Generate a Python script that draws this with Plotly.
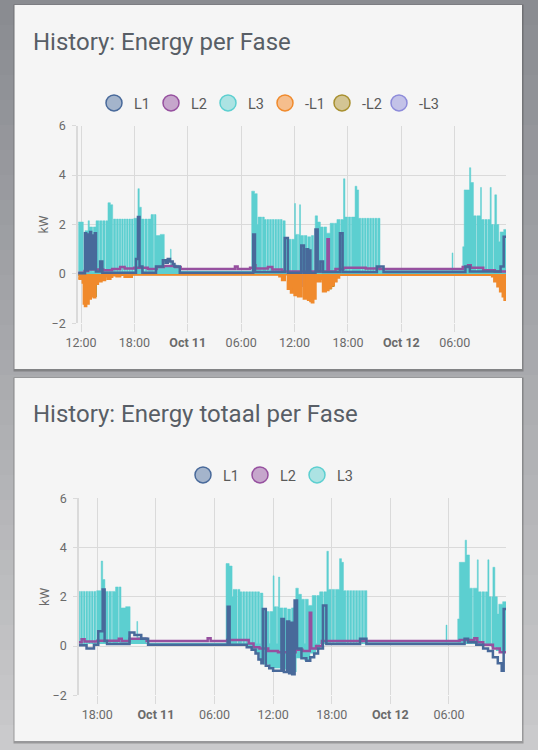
import pandas as pd
import plotly.graph_objects as go

W, H = 538, 750
DAY0 = pd.Timestamp("2023-10-10")

# all series: hours after Oct 10 00:00 -> kW, stepped (value holds until next point)
l3_hour = [11.70, 12.26, 12.45, 12.80, 12.94, 13.30, 13.39, 13.69, 14.00, 14.09, 14.35, 14.44,
           14.70, 14.79, 15.03, 15.30, 15.56, 15.65, 15.90, 15.99, 16.20, 16.29, 16.48, 16.57,
           16.75, 16.84, 17.02, 17.11, 17.30, 17.39, 17.57, 17.66, 17.85, 17.94, 18.40, 18.55,
           18.78, 19.10, 19.19, 19.45, 19.54, 19.87, 20.15, 20.24, 20.43, 20.90, 21.36, 22.05,
           22.13, 23.00, 31.18, 31.50, 31.80, 31.90, 32.30, 32.39, 32.60, 32.80, 32.89, 33.10,
           33.19, 33.40, 33.49, 33.70, 33.79, 34.00, 34.09, 34.30, 34.39, 34.60, 34.69, 34.95,
           35.30, 35.60, 35.69, 36.00, 36.10, 36.35, 36.44, 36.56, 36.67, 37.00, 37.09, 37.40,
           37.49, 37.80, 37.89, 38.13, 38.32, 38.58, 38.90, 39.20, 39.29, 39.60, 40.00, 40.40,
           40.49, 40.76, 41.10, 41.19, 41.50, 41.66, 41.95, 42.04, 42.30, 42.39, 42.80, 43.00,
           43.20, 43.45, 43.54, 43.75, 43.84, 44.05, 44.14, 44.35, 44.44, 44.65, 44.74, 44.95,
           45.04, 45.25, 45.34, 45.60, 53.70, 53.80, 54.90, 55.06, 55.66, 55.80, 56.10, 56.40,
           56.49, 56.90, 57.00, 57.30, 57.39, 57.65, 57.74, 57.98, 58.10, 58.30, 58.39, 58.50,
           58.70, 58.95, 59.10, 59.50, 59.90]
l3_kw = [2.10, 0.10, 1.75, 2.15, 1.90, 0.10, 1.90, 2.15, 0.10, 2.15, 0.10, 2.15,
         0.10, 2.15, 2.88, 2.80, 0.10, 2.22, 0.10, 2.22, 0.10, 2.22, 0.10, 2.22,
         0.10, 2.22, 0.10, 2.22, 0.10, 2.22, 0.10, 2.22, 0.10, 2.25, 3.45, 2.70,
         2.22, 0.10, 2.22, 0.10, 2.22, 2.40, 0.10, 2.40, 1.55, 1.60, 0.30, 1.00,
         0.35, 0.12, 3.35, 3.25, 2.00, 2.30, 0.10, 2.30, 2.20, 0.10, 2.20, 0.10,
         2.20, 0.10, 2.20, 0.10, 2.20, 0.10, 2.20, 0.10, 2.20, 0.10, 2.15, 1.45,
         1.40, 0.10, 1.40, 2.85, 1.60, 0.10, 1.60, 2.80, 1.55, 0.10, 1.55, 0.10,
         1.50, 0.10, 1.55, 0.10, 2.35, 2.10, 1.90, 0.10, 1.90, 1.65, 2.05, 0.10,
         2.05, 2.20, 0.10, 2.20, 3.85, 2.30, 0.10, 2.30, 0.10, 2.30, 3.55, 3.40,
         2.25, 0.10, 2.25, 0.10, 2.25, 0.10, 2.25, 0.10, 2.25, 0.10, 2.25, 0.10,
         2.25, 0.10, 2.25, 0.15, 0.85, 0.15, 1.10, 3.40, 4.30, 3.70, 2.35, 0.10,
         2.35, 3.50, 2.20, 0.10, 2.20, 0.10, 2.20, 3.50, 2.00, 0.10, 2.00, 3.20,
         2.00, 1.30, 1.70, 1.80, 1.80]

l1_hour = [11.70, 12.45, 12.58, 12.75, 12.86, 13.02, 13.14, 13.28, 13.38, 13.55, 13.68, 14.15,
           14.40, 18.18, 18.40, 18.58, 18.90, 20.43, 21.20, 21.50, 21.75, 22.00, 22.30, 22.50,
           23.10, 31.35, 31.55, 34.90, 35.25, 36.75, 37.05, 37.35, 37.52, 37.62, 37.78, 38.35,
           38.60, 38.90, 39.20, 41.10, 41.40, 45.25, 46.00, 55.20, 55.70, 59.15, 59.50, 59.90]
l1_kw = [0.03, 1.65, 0.15, 1.60, 0.20, 1.70, 0.20, 1.55, 0.20, 1.65, 0.10, 0.50,
         0.05, 0.60, 2.30, 0.30, 0.05, 0.30, 0.55, 0.45, 0.60, 0.50, 0.40, 0.30,
         0.05, 1.60, 0.08, 1.45, 0.05, 1.15, 0.05, 1.00, 0.05, 0.95, 0.05, 1.80,
         0.10, 0.50, 0.08, 1.65, 0.08, 0.30, 0.08, 0.30, 0.10, 0.30, 1.50, 1.50]

l2_hour = [11.70, 12.40, 12.80, 14.50, 15.50, 16.40, 16.90, 18.00, 19.50, 20.50, 21.30, 22.60,
           23.20, 29.30, 29.60, 31.00, 31.40, 31.60, 33.00, 33.50, 34.60, 39.70, 39.85, 40.60,
           41.50, 44.00, 45.60, 54.90, 55.50, 55.80, 57.20, 58.50, 59.90]
l2_kw = [0.05, 0.12, 0.18, 0.15, 0.20, 0.28, 0.22, 0.25, 0.20, 0.28, 0.32, 0.28,
         0.20, 0.30, 0.20, 0.25, 0.35, 0.22, 0.28, 0.18, 0.10, 1.40, 0.10, 0.20,
         0.25, 0.22, 0.20, 0.28, 0.35, 0.25, 0.15, 0.10, 0.10]

neg_l1_hour = [11.70, 12.20, 12.32, 12.45, 12.58, 12.70, 12.85, 12.95, 13.10, 13.20, 13.30, 13.45,
               13.60, 13.75, 13.90, 14.10, 14.30, 14.50, 14.70, 15.00, 15.30, 15.50, 16.00, 16.40,
               16.90, 17.70, 34.30, 34.60, 34.90, 35.25, 35.60, 36.00, 36.40, 36.75, 37.05, 37.35,
               37.52, 37.62, 37.78, 37.95, 38.10, 38.35, 38.60, 38.90, 39.20, 39.50, 39.80, 40.10,
               40.40, 40.70, 41.00, 58.20, 58.45, 58.80, 59.10, 59.40, 59.60, 59.90]
neg_l1_kw = [-0.20, -0.35, -1.20, -1.30, -1.15, -1.20, -0.60, -1.00, -0.50, -0.90, -0.40, -0.95,
             -0.30, -0.40, -0.20, -0.30, -0.10, -0.25, -0.10, -0.20, -0.12, -0.05, -0.10, -0.03,
             -0.12, -0.02, -0.10, -0.25, 0.00, -0.60, -0.75, -0.85, -0.90, 0.00, -1.00, 0.00,
             -1.05, 0.00, -1.10, -1.15, -1.00, 0.00, -0.30, -0.20, -0.70, -0.65, -0.55, -0.45,
             -0.30, -0.15, -0.03, -0.10, -0.30, -0.50, -0.70, -0.90, -1.05, -1.05]

neg_l2_hour = [11.70, 12.00, 12.40, 13.50, 13.70, 39.40, 39.80, 40.10, 40.40, 40.70, 41.00,
               58.90, 59.30, 59.90]
neg_l2_kw = [-0.05, -0.20, -0.05, -0.90, -0.02, -0.55, -0.60, -0.50, -0.30, -0.10, 0.00,
             -0.25, -0.05, -0.05]

neg_l3_hour = [11.70, 35.50, 35.90, 36.80, 37.10, 37.40, 37.80, 59.90]
neg_l3_kw = [0.00, -0.25, 0.00, -0.50, 0.00, -0.45, 0.00, 0.00]

# second card: totals per phase
tot_l1_hour = [11.70, 16.90, 17.66, 18.10, 18.55, 18.75, 19.00, 21.30, 21.80, 22.50, 23.20, 31.35,
               31.55, 33.30, 33.80, 34.20, 34.50, 34.80, 34.95, 35.25, 35.60, 36.00, 36.85, 37.10,
               37.43, 37.64, 37.77, 37.95, 38.20, 38.45, 38.90, 39.40, 39.80, 40.20, 40.60, 41.10,
               41.45, 44.90, 45.55, 55.60, 55.96, 56.80, 57.50, 58.00, 58.50, 59.00, 59.40, 59.60,
               59.90]
tot_l1_kw = [0.03, -0.10, 0.05, 0.60, 2.30, 0.20, 0.08, 0.55, 0.45, 0.30, 0.05, 1.60,
             0.05, -0.05, -0.15, -0.30, -0.55, -0.70, 1.50, -0.80, -0.90, -1.00, 1.10, -1.05,
             1.00, -1.10, 0.95, -1.15, 1.85, -0.10, -0.50, -0.60, -0.45, -0.30, -0.10, 1.65,
             0.08, 0.30, 0.08, 0.30, 0.15, 0.05, -0.10, -0.20, -0.45, -0.70, -1.00, 1.50,
             1.50]

tot_l2_hour = [11.70, 16.40, 16.70, 18.00, 20.20, 20.50, 21.30, 23.05, 29.30, 29.60, 31.30, 33.50,
               34.00, 34.60, 35.50, 36.50, 38.30, 39.00, 39.75, 39.90, 40.40, 41.00, 45.50, 55.10,
               56.60, 56.90, 57.50, 58.50, 59.20, 59.90]
tot_l2_kw = [0.15, 0.28, 0.18, 0.22, 0.30, 0.20, 0.30, 0.20, 0.32, 0.20, 0.25, 0.10,
             -0.05, -0.10, -0.20, -0.25, -0.15, -0.20, 1.35, -0.10, 0.00, 0.20, 0.20, 0.25,
             0.32, 0.15, 0.05, -0.10, -0.25, -0.25]

# lower edge of the L3 total band (export side)
tot_l3_low_hour = [11.70, 33.30, 33.80, 34.20, 34.60, 35.00, 35.60, 36.00, 36.80, 37.50, 38.20,
                   38.40, 39.20, 39.80, 40.40, 40.80, 58.30, 58.80, 59.90]
tot_l3_low_kw = [0.08, -0.05, -0.15, -0.30, -0.60, -0.75, -0.85, -0.90, -0.95, -1.00, -1.05,
                 -0.50, -0.60, -0.30, -0.15, 0.08, -0.05, -0.20, -0.20]

tick_hours_1 = [12, 18, 24, 30, 36, 42, 48, 54]
tick_hours_2 = [18, 24, 30, 36, 42, 48, 54]
tick_text = {12: "12:00", 18: "18:00", 24: "<b>Oct 11</b>", 30: "06:00",
             36: "12:00", 42: "18:00", 48: "<b>Oct 12</b>", 54: "06:00"}

C_L1, C_L2, C_L3 = "#48699a", "#96509f", "#5ccfd0"
C_NL1, C_NL2, C_NL3 = "#f08a2c", "#a8902f", "#8d8bda"
LEG_FILL = {"L1": "#a4b4cb", "L2": "#c6a6cc", "L3": "#ace3e3",
            "-L1": "#f5be8d", "-L2": "#d3c594", "-L3": "#c3c2e8"}
CARD = "#f5f5f5"
GRID = "#dadada"
TXT = "#6a6a6a"


def t(hours):
    return DAY0 + pd.to_timedelta(pd.Series(hours), unit="h")


def px(x):
    return x / W


def py(y):
    return 1 - y / H


fig = go.Figure()


def step(hours, kw, color, xa, ya, width=2.5, fill=None, fillcolor=None):
    fig.add_trace(go.Scatter(
        x=t(hours), y=kw, mode="lines", line=dict(color=color, width=width, shape="hv"),
        fill=fill, fillcolor=fillcolor, showlegend=False, hoverinfo="skip",
        xaxis=xa, yaxis=ya))


# card 1
step(neg_l3_hour, neg_l3_kw, C_NL3, "x", "y", 1.5, "tozeroy", C_NL3)
step(neg_l2_hour, neg_l2_kw, C_NL2, "x", "y", 1.5, "tozeroy", C_NL2)
step(neg_l1_hour, neg_l1_kw, C_NL1, "x", "y", 2.5, "tozeroy", C_NL1)
step(l3_hour, l3_kw, C_L3, "x", "y", 0.5, "tozeroy", C_L3)
step(l2_hour, l2_kw, C_L2, "x", "y", 2.5)
step(l1_hour, l1_kw, C_L1, "x", "y", 2.5)

# card 2
step(tot_l3_low_hour, tot_l3_low_kw, C_L3, "x2", "y2", 0)
step(l3_hour, l3_kw, C_L3, "x2", "y2", 0.5, "tonexty", C_L3)
step(tot_l2_hour, tot_l2_kw, C_L2, "x2", "y2", 2.5)
step(tot_l1_hour, tot_l1_kw, C_L1, "x2", "y2", 2.5)

# legend entries (a blank last entry keeps the text of the real last one from being clipped)
for name, col, leg in [("L1", C_L1, "legend"), ("L2", C_L2, "legend"), ("L3", C_L3, "legend"),
                       ("-L1", C_NL1, "legend"), ("-L2", C_NL2, "legend"), ("-L3", C_NL3, "legend"),
                       ("L1", C_L1, "legend2"), ("L2", C_L2, "legend2"), ("L3", C_L3, "legend2")]:
    fig.add_trace(go.Scatter(
        x=[None], y=[None], mode="markers", name=name, legend=leg,
        marker=dict(size=16, color=LEG_FILL[name], line=dict(color=col, width=1.5))))
for leg in ["legend", "legend2"]:
    fig.add_trace(go.Scatter(x=[None], y=[None], mode="markers", name=" ", legend=leg,
                             marker=dict(size=1, color="rgba(0,0,0,0)")))

# page background + cards
shapes = []
n = 30
for i in range(n):
    f = i / (n - 1)
    c = tuple(int(a + (b - a) * f) for a, b in zip((138, 140, 145), (202, 202, 204)))
    shapes.append(dict(type="rect", xref="paper", yref="paper", x0=0, x1=1,
                       y0=py(H * (i + 1) / n), y1=py(H * i / n), layer="below",
                       line=dict(width=0), fillcolor="rgb(%d,%d,%d)" % c))
for top, bot in [(5, 369), (378, 741)]:
    shapes.append(dict(type="rect", xref="paper", yref="paper", x0=px(13.5), x1=px(523.5),
                       y0=py(bot + 2.5), y1=py(top - 0.5), layer="below",
                       line=dict(width=0), fillcolor="rgba(60,60,60,0.35)"))
    shapes.append(dict(type="rect", xref="paper", yref="paper", x0=px(14.5), x1=px(522),
                       y0=py(bot), y1=py(top), layer="below",
                       line=dict(width=0), fillcolor=CARD))

xaxis_common = dict(type="date", showgrid=True, gridcolor=GRID, gridwidth=1, zeroline=False,
                    ticks="outside", ticklen=8, tickcolor=GRID, showline=False,
                    automargin=False, tickfont=dict(size=12.5, color=TXT))
yaxis_common = dict(range=[-2, 6], tickvals=[-2, 0, 2, 4, 6], showgrid=True, gridcolor=GRID,
                    zeroline=False, ticks="outside", ticklen=4, tickcolor=GRID,
                    showline=True, linecolor=GRID, linewidth=1.5, automargin=False,
                    ticklabelstandoff=4, tickfont=dict(size=12.5, color=TXT),
                    title=dict(text="kW", font=dict(size=13, color=TXT), standoff=0))

legend_common = dict(orientation="h", xanchor="left", yanchor="middle",
                     traceorder="normal", entrywidth=12, entrywidthmode="pixels",
                     font=dict(size=14.5, color="#5a5a5a"), bgcolor="rgba(0,0,0,0)")

fig.update_layout(
    width=W, height=H, margin=dict(l=0, r=0, t=0, b=0, autoexpand=False),
    paper_bgcolor="rgb(160,161,164)", plot_bgcolor="rgba(0,0,0,0)",
    font=dict(family="Roboto, sans-serif"),
    shapes=shapes,
    xaxis=dict(xaxis_common, domain=[px(78), px(506)], anchor="y",
               range=[t([11.663])[0], t([59.76])[0]],
               tickvals=t(tick_hours_1), ticktext=[tick_text[h] for h in tick_hours_1]),
    yaxis=dict(yaxis_common, domain=[py(323.3), py(125.7)], anchor="x"),
    xaxis2=dict(xaxis_common, domain=[px(79), px(506)], anchor="y2",
                range=[t([16.127])[0], t([59.84])[0]],
                tickvals=t(tick_hours_2), ticktext=[tick_text[h] for h in tick_hours_2]),
    yaxis2=dict(yaxis_common, domain=[py(695.3), py(498.3)], anchor="x2"),
    legend=dict(legend_common, x=px(94), y=py(103)),
    legend2=dict(legend_common, x=px(183), y=py(475)),
    annotations=[
        dict(text="History: Energy per Fase", xref="paper", yref="paper", x=px(31),
             y=py(42), xanchor="left", yanchor="middle", showarrow=False,
             font=dict(size=24, color="#585e66")),
        dict(text="History: Energy totaal per Fase", xref="paper", yref="paper", x=px(31),
             y=py(414), xanchor="left", yanchor="middle", showarrow=False,
             font=dict(size=24, color="#585e66")),
    ],
)

fig.write_html("out.html", config={"displayModeBar": False},
               post_script="document.body.style.margin='0';document.body.style.overflow='hidden';")
